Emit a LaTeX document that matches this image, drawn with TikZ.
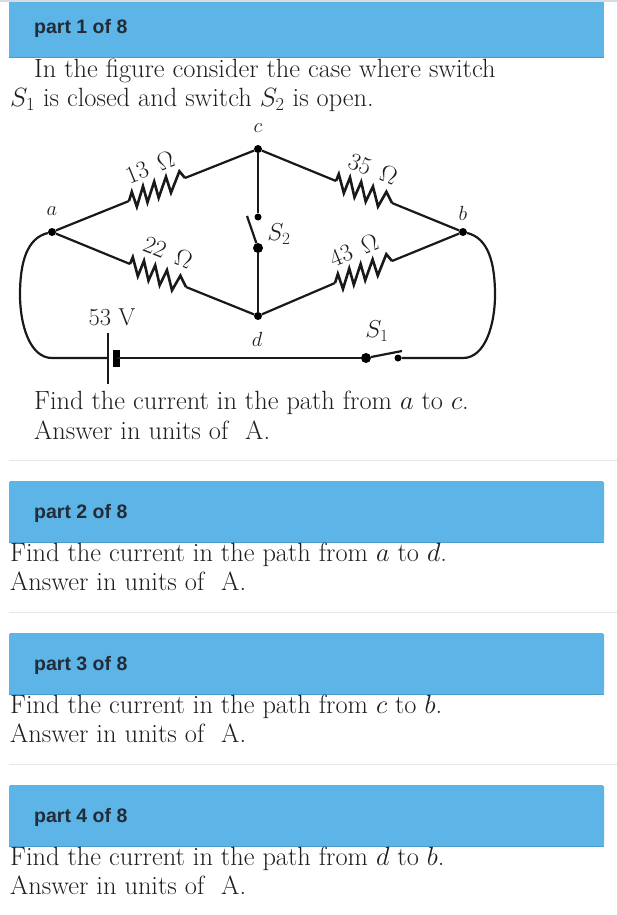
\documentclass[tikz,border=0pt]{standalone}
\usepackage{fix-cm}
\usepackage{fontspec}
\usetikzlibrary{calc}
\newfontfamily\partfont{Liberation Sans}
\definecolor{barblue}{HTML}{5DB4E6}
\definecolor{baredge}{HTML}{4A9CCB}
\definecolor{bartext}{HTML}{222C36}
\definecolor{rulegray}{HTML}{E6E6E6}
\definecolor{topshade}{HTML}{D5DDE3}
\definecolor{inkgray}{HTML}{1E1E1E}
\newcommand{\bodysize}{\fontsize{26.4}{29}\selectfont}
\newcommand{\labelsize}{\fontsize{24.5}{29}\selectfont}
\newcommand{\lettersize}{\fontsize{20.5}{24}\selectfont}
\newcommand{\resistor}[2]{
\draw[wire, line width = 2.6pt, line join = miter] (#1)
    -- ($(#1)!0.05!(#2)+(0,-8)$) -- ($(#1)!0.14!(#2)+(0,9)$)
    -- ($(#1)!0.25!(#2)+(0,-9)$) -- ($(#1)!0.33!(#2)+(0,9)$)
    -- ($(#1)!0.45!(#2)+(0,-9)$) -- ($(#1)!0.53!(#2)+(0,9)$)
    -- ($(#1)!0.66!(#2)+(0,-9)$) -- ($(#1)!0.75!(#2)+(0,9)$)
    -- ($(#1)!0.90!(#2)+(0,-9)$) -- (#2);
}
\tikzset{
    partbar/.style = {fill = barblue, draw = none},
    parttext/.style = {anchor = base west, inner sep = 0, text = bartext, font = \partfont\fontsize{19.5}{24}\selectfont\bfseries},
    bodytext/.style = {anchor = base west, inner sep = 0, text = inkgray, font = \bodysize},
    wire/.style = {draw = black!90, line width = 2.2pt},
    junction/.style = {circle, fill = black, inner sep = 0, minimum size = 8pt},
    circlabel/.style = {inner sep = 0, text = inkgray, font = \labelsize},
    letterlabel/.style = {inner sep = 0, text = inkgray, font = \lettersize}
}

\begin{document}
\begin{tikzpicture}[x = 1pt, y = -1pt]
    % Parametri
    \pgfmathsetmacro{\barleft}{9}
    \pgfmathsetmacro{\barright}{604}
    \pgfmathsetmacro{\wirey}{358}
    \useasboundingbox (0,0) rectangle (617,915);
    % Part 1
    \fill[topshade] (0,0) rectangle (617,2);
    \fill[partbar] (\barleft,2) rectangle (\barright,57);
    \draw[baredge, line width = 0.8pt] (\barleft,57) -- (\barright,57);
    \node[parttext] (part1) at (34,34) {part 1 of 8};
    \node[bodytext] (intro1) at (34,78) {In the figure consider the case where switch};
    \node[bodytext] (intro2) at (10,107) {$S_1$ is closed and switch $S_2$ is open.};
    \node[bodytext] (find1) at (34,409) {Find the current in the path from $a$ to $c$.};
    \node[bodytext] (answer1) at (34,439) {Answer in units of\hspace{9pt} A.};
    % Parts 2-4
    \foreach \bartop/\num/\from/\to in {481/2/a/d, 633/3/c/b, 785/4/d/b} {
        \draw[rulegray, line width = 1pt] (\barleft,\bartop-21) -- (617,\bartop-21);
        \fill[partbar, rounded corners = 2pt] (\barleft,\bartop+61) -- (\barleft,\bartop) -- (\barright,\bartop) -- (\barright,\bartop+61) -- cycle;
        \fill[partbar] (\barleft,\bartop+10) rectangle (\barright,\bartop+61);
        \draw[baredge, line width = 0.8pt] (\barleft,\bartop+61) -- (\barright,\bartop+61);
        \node[parttext] (part\num) at (34,\bartop+37) {part \num\ of 8};
        \node[bodytext] (find\num) at (10,\bartop+80) {Find the current in the path from $\from$ to $\to$.};
        \node[bodytext] (answer\num) at (10,\bartop+109) {Answer in units of\hspace{9pt} A.};
    }
    % Nodi
    \node[junction] (a) at (52,232) {};
    \node[junction] (b) at (463,232) {};
    \node[junction] (c) at (258,149) {};
    \node[junction] (d) at (258,316) {};
    \node[junction, minimum size = 7pt] (s2top) at (258,217) {};
    \node[junction, minimum size = 10pt] (s2bot) at (258,248) {};
    \node[junction, minimum size = 10pt] (s1left) at (366,358) {};
    \node[junction, minimum size = 7pt] (s1right) at (398,358) {};
    \coordinate (s2arm) at (247,216);
    \coordinate (s1arm) at (402,351);
    \coordinate (r13a) at (129,201);
    \coordinate (r13b) at (185,178);
    \coordinate (r22a) at (130,264);
    \coordinate (r22b) at (186,287);
    \coordinate (r35a) at (336,181);
    \coordinate (r35b) at (392,203);
    \coordinate (r43a) at (335,283);
    \coordinate (r43b) at (392,261);
    \coordinate (batlong) at (108,\wirey);
    \coordinate (batshort) at (116.5,\wirey);
    \coordinate (bl) at (52,\wirey);
    \coordinate (br) at (463,\wirey);
    % Rami
    \draw[wire] (a) -- (r13a);
    \resistor{r13a}{r13b}
    \draw[wire] (r13b) -- (c);
    \draw[wire] (a) -- (r22a);
    \resistor{r22a}{r22b}
    \draw[wire] (r22b) -- (d);
    \draw[wire] (c) -- (r35a);
    \resistor{r35a}{r35b}
    \draw[wire] (r35b) -- (b);
    \draw[wire] (d) -- (r43a);
    \resistor{r43a}{r43b}
    \draw[wire] (r43b) -- (b);
    % Interruttori
    \draw[wire] (c) -- (s2top);
    \draw[wire] (s2bot) -- (d);
    \draw[wire] (s2bot) -- (s2arm);
    \draw[wire] (s1left) -- (s1arm);
    % Batteria e contorno
    \draw[wire] (a) .. controls (27,238) and (20,262) .. (20,295) .. controls (20,325) and (30,358) .. (bl) -- (batlong);
    \draw[wire] (batlong) ++(0,-25.5) -- ++(0,51);
    \draw[black, line width = 7pt] (batshort) ++(0,-8.5) -- ++(0,17);
    \draw[wire] (batshort) -- (s1left);
    \draw[wire] (s1right) -- (br) .. controls (485,358) and (495,325) .. (495,295) .. controls (495,262) and (488,238) .. (b);
    % Etichette
    \node[letterlabel] (labela) at (52,211) {$a$};
    \node[letterlabel] (labelb) at (463,213) {$b$};
    \node[letterlabel] (labelc) at (258,128) {$c$};
    \node[letterlabel] (labeld) at (257,339) {$d$};
    \node[circlabel, rotate = 22] (lab13) at (150,167) {13\ \,$\Omega$};
    \node[circlabel, rotate = -22] (lab22) at (168,252) {22\ \,$\Omega$};
    \node[circlabel, rotate = -22] (lab35) at (373,169) {35\ \,$\Omega$};
    \node[circlabel, rotate = 22] (lab43) at (354,250) {43\ \,$\Omega$};
    \node[circlabel] (labs2) at (279,234) {$S_2$};
    \node[circlabel] (labs1) at (377,331) {$S_1$};
    \node[circlabel] (labv) at (112,317) {53 V};
\end{tikzpicture}
\end{document}
